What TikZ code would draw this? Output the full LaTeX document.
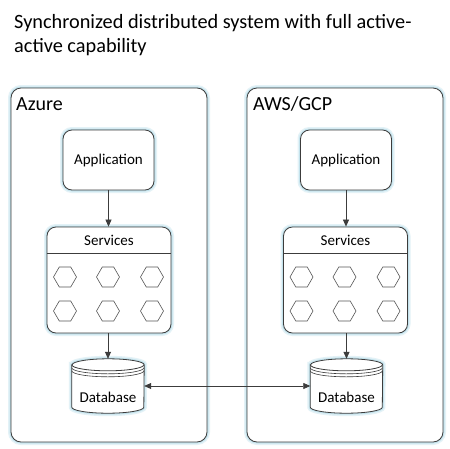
\documentclass[tikz,border=0pt]{standalone}
\usepackage{fontspec}
\setmainfont{Carlito}
\usetikzlibrary{shapes.geometric,arrows.meta,calc}
\definecolor{glowc}{HTML}{C3E2EC}
\definecolor{glowo}{HTML}{E3F2F7}
\definecolor{linec}{HTML}{3C3C3C}
\definecolor{hexc}{HTML}{555555}
\tikzset{
  glow/.style={preaction={draw=glowo,line width=6pt},preaction={draw=glowc,line width=3pt}},
  boxshape/.style={rectangle,rounded corners=10pt,draw=linec,line width=0.8pt,fill=white,glow,inner sep=0pt},
  appshape/.style={rectangle,rounded corners=9pt,draw=linec,line width=0.8pt,fill=white,glow,inner sep=0pt,
     minimum width=91pt,minimum height=60pt,font=\fontsize{15}{18}\selectfont},
  svcshape/.style={rectangle,rounded corners=9pt,draw=linec,line width=0.8pt,fill=white,glow,inner sep=0pt,
     minimum width=124pt,minimum height=106pt},
  hexshape/.style={regular polygon,regular polygon sides=6,draw=hexc,line width=0.6pt,minimum size=23pt,inner sep=0pt},
  dbshape/.style={rectangle,draw=none,inner sep=0pt,minimum width=72pt,minimum height=54pt},
  dbline/.style={draw=linec,line width=0.8pt},
  conn/.style={draw=linec,line width=0.7pt,-{Triangle[length=7pt,width=6pt]}},
  biconn/.style={draw=linec,line width=0.7pt,{Triangle[length=7pt,width=6pt]}-{Triangle[length=7pt,width=6pt]}},
  lbl/.style={font=\fontsize{15}{18}\selectfont,inner sep=0pt},
  cloudlbl/.style={font=\fontsize{20}{24}\selectfont,inner sep=0pt,anchor=west}
}
\newcommand\drawdb[1]{%
  \path[fill=white,dbline,glow] ($(#1.north west)+(0,6)$) -- ($(#1.south west)+(0,-6)$)
     arc[start angle=180,end angle=0,x radius=36,y radius=6]
     -- ($(#1.north east)+(0,6)$)
     arc[start angle=0,end angle=-180,x radius=36,y radius=6] -- cycle;
  \draw[dbline] ($(#1.north west)+(0,6)$) arc[start angle=180,end angle=0,x radius=36,y radius=6];
  \draw[dbline,line width=0.6pt] ($(#1.north west)+(0,9)$) arc[start angle=180,end angle=0,x radius=36,y radius=6];
  \draw[dbline,line width=0.6pt] ($(#1.north west)+(0,12)$) arc[start angle=180,end angle=0,x radius=36,y radius=6];
}
\begin{document}
\begin{tikzpicture}[x=1pt,y=-1pt]
\useasboundingbox (0,0) rectangle (450,448);
\fill[white] (0,0) rectangle (450,448);
% title
\node[anchor=base west,inner sep=0pt,font=\fontsize{20.3}{24}\selectfont] (title1) at (14,28.5) {Synchronized distributed system with full active-};
\node[anchor=base west,inner sep=0pt,font=\fontsize{20.3}{24}\selectfont] (title2) at (14,52.5) {active capability};
% cloud boxes
\node[boxshape,minimum width=196pt,minimum height=354pt] (azure) at (109,265) {};
\node[boxshape,minimum width=196pt,minimum height=354pt] (aws) at (345,265) {};
\node[cloudlbl] (azl) at (16,104) {Azure};
\node[cloudlbl] (awsl) at (253,104) {AWS/GCP};
% applications
\node[appshape] (app1) at (108.5,160) {Application};
\node[appshape] (app2) at (346,160) {Application};
% services
\node[svcshape] (svc1) at (109,280) {};
\node[svcshape] (svc2) at (345.5,280) {};
\draw[linec,line width=0.7pt] (svc1.north west |- 0,253) -- (svc1.north east |- 0,253);
\draw[linec,line width=0.7pt] (svc2.north west |- 0,253) -- (svc2.north east |- 0,253);
\node[lbl] (svc1t) at (109,240) {Services};
\node[lbl] (svc2t) at (345.5,240) {Services};
\foreach \dx [count=\i] in {-44,-1,43}{
  \foreach \yy [count=\j] in {277,311}{
    \node[hexshape] (la\i\j) at (109+\dx,\yy) {};
    \node[hexshape] (lb\i\j) at (345.5+\dx,\yy) {};
  }
}
% databases
\node[dbshape] (db1) at (108,386) {};
\node[dbshape] (db2) at (346.5,386) {};
\drawdb{db1}
\drawdb{db2}
\node[lbl] (db1t) at (108,397) {Database};
\node[lbl] (db2t) at (346.5,397) {Database};
% connectors
\draw[conn] (app1.south) -- (app1.south |- svc1.north);
\draw[conn] (app2.south) -- (app2.south |- svc2.north);
\draw[conn] (svc1.south -| db1.north) -- (db1.north);
\draw[conn] (svc2.south -| db2.north) -- (db2.north);
\draw[biconn] (db1.east) -- (db2.west);
\end{tikzpicture}
\end{document}
